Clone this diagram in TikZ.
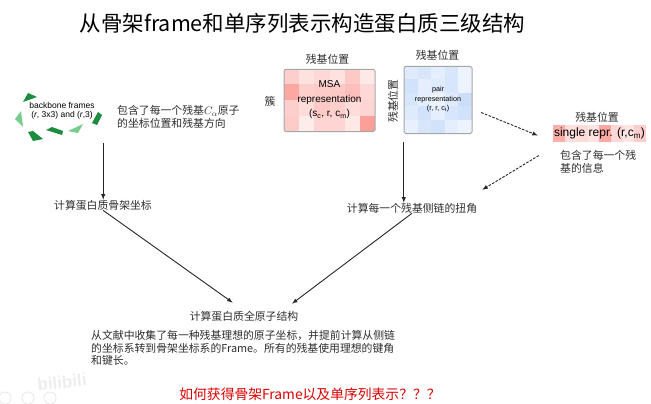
\documentclass[tikz,border=0pt]{standalone}
\usepackage{amsmath}
\usepackage{fontspec}
\setmainfont{Noto Sans CJK SC}
\setsansfont{Liberation Sans}
\usetikzlibrary{calc}
\definecolor{tileDark}{RGB}{28,140,62}
\definecolor{tileLight}{RGB}{120,205,140}
\definecolor{bodyInk}{RGB}{45,45,45}
\definecolor{heatRed}{RGB}{250,95,85}
\definecolor{heatBlue}{RGB}{95,150,240}
\def\HeatMap#1#2#3#4#5#6#7{%
 \foreach \cells [count=\j from 0] in {#7}
   \foreach \v [count=\i from 0] in \cells
     \fill[#5!\v] (#1+\i*#3,#2+\j*#4) rectangle +(#3+0.3,#4+0.3);
 \node[heat box, minimum width=#6*#3] at (#1+#6*#3/2,#2) {};
}
\def\FrameTile#1#2{%
\fill[#1] #2 -- cycle;
}
\tikzset{
 body text/.style={inner sep=0pt, text=bodyInk, align=left,
     font=\fontsize{10.85}{12.8}\selectfont},
 box text/.style={inner sep=0pt, align=center, font=\sffamily},
 flow arrow/.style={draw=black!85, line width=0.9pt, -latex},
 side arrow/.style={flow arrow, dash pattern=on 2.6pt off 1.4pt}
}
\begin{document}
\begin{tikzpicture}[x=1pt,y=-1pt]
\useasboundingbox (0,0) rectangle (651,404);
\node[inner sep=0pt, font=\fontsize{21.5}{25}\selectfont] (title) at (302.5,23) {从骨架frame和单序列表示构造蛋白质三级结构};

% backbone frames
\FrameTile{tileDark}{(23,102) -- (28,93) -- (37,97)}
\FrameTile{tileLight}{(15,119) -- (21,111) -- (23,127)}
\FrameTile{tileDark}{(92,123) -- (98,112) -- (102,115) -- (97,125)}
\FrameTile{tileDark}{(28,132) -- (33,131) -- (43,139) -- (33,141)}
\FrameTile{tileDark}{(46,130) -- (52,127) -- (63,131) -- (62,135)}
\FrameTile{tileLight}{(68,131) -- (83,124) -- (78,133)}
\node[box text, minimum width=82pt, minimum height=64pt, font=\sffamily\fontsize{8.5}{9.5}\selectfont] (frames) at (62,111) {backbone frames\\(\textit{r}, 3x3) and (\textit{r},3)};
\node[body text, anchor=west] (framesNote) at (117,117) {包含了每一个残基$C_\alpha$原子\\的坐标位置和残基方向};

% MSA, pair and single
\begin{scope}
\tikzset{heat box/.style={draw=black!35, line width=1pt, rounded corners=1.5pt, anchor=north, minimum height=62pt, inner sep=0pt}}
\HeatMap{284}{69}{15.17}{15.5}{heatRed}{6}{{30,18,24,18,34,14},{55,30,32,34,40,24},{30,22,34,30,22,26},{32,12,26,26,14,60}}
\tikzset{heat box/.style={draw=black!35, line width=1pt, rounded corners=1.5pt, anchor=north, minimum height=67pt, inner sep=0pt}}
\HeatMap{404}{66}{13.6}{13.4}{heatBlue}{5}{{20,24,16,24,12},{28,16,20,24,12},{24,16,12,20,32},{20,28,16,24,28},{14,24,28,16,12}}
\tikzset{heat box/.style={draw=none, anchor=north, minimum height=17pt, inner sep=0pt}}
\HeatMap{553}{125}{11.6}{17}{heatRed}{8}{{50,20,22,16,55,24,16,30}}
\end{scope}
\node[box text, minimum width=91pt, minimum height=62pt, font=\sffamily\fontsize{10}{14.5}\selectfont] (msa) at (329.5,100) {MSA\\representation\\(s$_\text{c}$, r, c$_\text{m}$)};
\node[box text, minimum width=68pt, minimum height=67pt, font=\sffamily\fontsize{7.2}{9.5}\selectfont] (pair) at (438,99.5) {pair\\representation\\(r, r, c$_\text{t}$)};
\node[box text, minimum width=93pt, minimum height=17pt, font=\sffamily\fontsize{12}{14}\selectfont] (single) at (599.5,133.5) {single repr. (r,c$_\text{m}$)};
\node[body text] (msaLabel) at (327.5,59) {残基位置};
\node[body text] (pairLabel) at (437.5,55) {残基位置};
\node[body text] (clusterLabel) at (270,101) {簇};
\node[body text, rotate=90] (pairSide) at (393,101) {残基位置};
\node[body text] (singleLabel) at (597,117) {残基位置};
\node[body text, anchor=north west] (singleNote) at (560,150) {包含了每一个残\\基的信息};

% steps
\node[body text] (backbone) at (103,205) {计算蛋白质骨架坐标};
\node[body text] (sidechain) at (412,208) {计算每一个残基侧链的扭角};
\node[body text] (full) at (244,316) {计算蛋白质全原子结构};
\node[body text, anchor=north west] (fullNote) at (91,330) {从文献中收集了每一种残基理想的原子坐标，并提前计算从侧链\\的坐标系转到骨架坐标系的Frame。所有的残基使用理想的键角\\和键长。};
\node[inner sep=0pt, text=red!85!black, font=\fontsize{13.8}{16}\selectfont] (question) at (310,394) {如何获得骨架Frame以及单序列表示？？？};

% connectors
\coordinate (pairOut) at ($(pair.east)+(9,13)$);
\coordinate (singleIn) at ($(single.west)+(-15,2)$);
\coordinate (singleOut) at ($(single.west)+(-14,22)$);
\coordinate (sideIn) at ($(sidechain.north east)+(5,-13)$);
\coordinate (fullRight) at ($(full.north)+(48,-7)$);
\draw[flow arrow] (frames.south east) -- (frames.south east |- backbone.north);
\draw[flow arrow, shorten <=9pt] (pair.south west) -- (pair.south west |- sidechain.north);
\draw[side arrow] (pairOut) -- (singleIn);
\draw[side arrow] (singleOut) -- (sideIn);
\draw[flow arrow, shorten >=14pt] (backbone.south) -- (full.north);
\draw[flow arrow] (sidechain.south) -- (fullRight);

% watermark
\node[inner sep=0pt, text=black!7, rotate=6, font=\sffamily\bfseries\fontsize{17}{20}\selectfont] (mark) at (62,382) {bilibili};
\foreach \x in {5,28,50}
  \draw[black!8, line width=1pt] (\x,398) circle (6);
\end{tikzpicture}
\end{document}
